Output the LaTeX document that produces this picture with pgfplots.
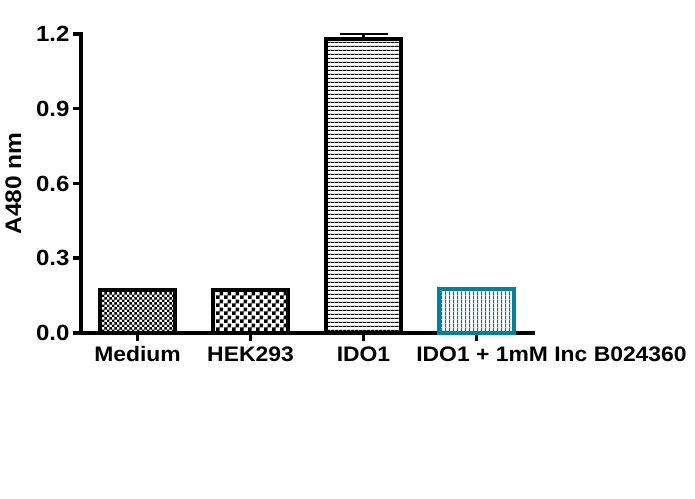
\documentclass[border=0pt]{standalone}
\usepackage{pgfplots}
\pgfplotsset{compat=1.18}
\usepackage{fontspec}
\setmainfont{Liberation Sans}[FakeStretch=1.09]
\usetikzlibrary{patterns}
\definecolor{tealbar}{RGB}{0,130,152}
\pgfdeclarepatternformonly{checkfine}{\pgfpointorigin}{\pgfpoint{5.4pt}{5.4pt}}{\pgfpoint{5.4pt}{5.4pt}}{%
  \pgfpathrectangle{\pgfpointorigin}{\pgfpoint{2.7pt}{2.7pt}}%
  \pgfpathrectangle{\pgfpoint{2.7pt}{2.7pt}}{\pgfpoint{2.7pt}{2.7pt}}%
  \pgfusepath{fill}}
\pgfdeclarepatternformonly{checkcoarse}{\pgfpointorigin}{\pgfpoint{8pt}{8pt}}{\pgfpoint{8pt}{8pt}}{%
  \pgfpathrectangle{\pgfpointorigin}{\pgfpoint{4pt}{4pt}}%
  \pgfpathrectangle{\pgfpoint{4pt}{4pt}}{\pgfpoint{4pt}{4pt}}%
  \pgfusepath{fill}}
\pgfdeclarepatternformonly{hlinesx}{\pgfpointorigin}{\pgfpoint{3.8pt}{3.8pt}}{\pgfpoint{3.8pt}{3.8pt}}{%
  \pgfpathrectangle{\pgfpointorigin}{\pgfpoint{3.8pt}{1.3pt}}%
  \pgfusepath{fill}}
\pgfdeclarepatternformonly{vlinesx}{\pgfpointorigin}{\pgfpoint{3.8pt}{3.8pt}}{\pgfpoint{3.8pt}{3.8pt}}{%
  \pgfpathrectangle{\pgfpointorigin}{\pgfpoint{1.3pt}{3.8pt}}%
  \pgfusepath{fill}}
\begin{document}
\begin{tikzpicture}
\path[use as bounding box] (0,0) rectangle (695pt,498pt);
\begin{axis}[
  at={(81pt,165pt)}, anchor=south west,
  scale only axis, width=452pt, height=299pt,
  xmin=-0.5, xmax=3.5, ymin=0, ymax=1.2,
  clip=false,
  axis x line*=bottom, axis y line*=left,
  axis line style={-, line width=4pt, line cap=rect},
  ytick={0,0.3,0.6,0.9,1.2},
  xtick={0,1,2,3},
  xticklabels={Medium,HEK293,IDO1,\hspace{150pt}IDO1 + 1mM Inc B024360},
  tick align=outside,
  major tick length=8pt,
  major tick style={line width=3.5pt, black},
  xticklabel style={font=\fontsize{21}{25}\selectfont\bfseries, yshift=-2pt},
  yticklabel style={font=\fontsize{22}{26}\selectfont\bfseries},
  /pgf/number format/assume math mode=true,
  yticklabel={\pgfmathprintnumber[fixed,fixed zerofill,precision=1]{\tick}},
  every axis y label/.style={at={(axis description cs:-0.124,0.5)}, rotate=90, anchor=south},
  ylabel={A480 nm},
  ylabel style={font=\fontsize{22.5}{26}\selectfont\bfseries},
  ybar, bar width=75pt, bar shift=0pt,
]
\addplot[ybar, bar shift=0pt, draw=black, line width=4pt, pattern=checkfine, pattern color=black] coordinates {(0,0.172)};
\addplot[ybar, bar shift=0pt, draw=black, line width=4pt, pattern=checkcoarse, pattern color=black] coordinates {(1,0.172)};
\addplot[ybar, bar shift=0pt, draw=black, line width=4pt, pattern=hlinesx, pattern color=black,
  error bars/.cd, y dir=plus, y explicit,
  error bar style={line width=2.5pt, black},
  error mark options={rotate=90, mark size=24pt, line width=2.5pt, black}] coordinates {(2,1.18) +- (0,0.02)};
\addplot[ybar, bar shift=0pt, draw=tealbar, line width=4pt, pattern=vlinesx, pattern color=tealbar] coordinates {(3,0.178)};
\end{axis}
\end{tikzpicture}
\end{document}
